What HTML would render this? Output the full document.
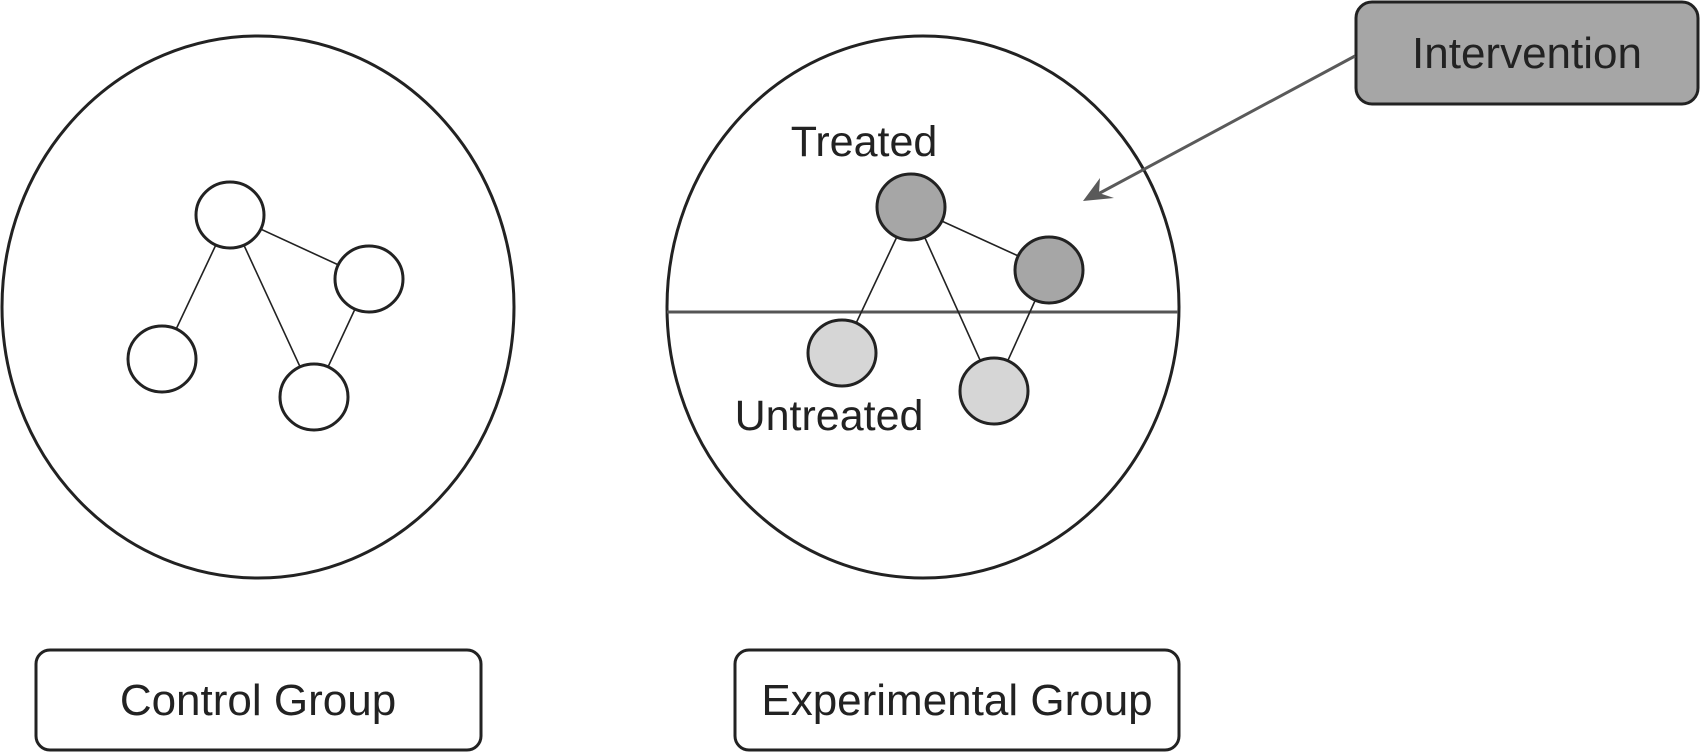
<!DOCTYPE html>
<html><head><meta charset="utf-8"><style>
html,body{margin:0;padding:0;background:#fff;}
svg{display:block;}
text{font-family:"Liberation Sans",sans-serif;fill:#222;}
</style></head><body>
<svg width="1700" height="754" viewBox="0 0 1700 754" xmlns="http://www.w3.org/2000/svg">
<ellipse cx="258" cy="307" rx="256" ry="271" fill="#fff" stroke="#222" stroke-width="3"/>
<ellipse cx="923" cy="307" rx="256" ry="271" fill="#fff" stroke="#222" stroke-width="3"/>
<line x1="667" y1="312" x2="1178" y2="312" stroke="#555" stroke-width="3"/>
<g stroke="#222" stroke-width="1.6">
<line x1="230" y1="215" x2="369" y2="279"/>
<line x1="230" y1="215" x2="162" y2="359"/>
<line x1="230" y1="215" x2="314" y2="397"/>
<line x1="369" y1="279" x2="314" y2="397"/>
<line x1="911" y1="207" x2="1049" y2="270"/>
<line x1="911" y1="207" x2="842" y2="353"/>
<line x1="911" y1="207" x2="994" y2="391"/>
<line x1="1049" y1="270" x2="994" y2="391"/>
</g>
<g stroke="#222" stroke-width="3">
<ellipse cx="230" cy="215" rx="34" ry="33" fill="#fff"/>
<ellipse cx="369" cy="279" rx="34" ry="33" fill="#fff"/>
<ellipse cx="162" cy="359" rx="34" ry="33" fill="#fff"/>
<ellipse cx="314" cy="397" rx="34" ry="33" fill="#fff"/>
<ellipse cx="911" cy="207" rx="34" ry="33" fill="#a6a6a6"/>
<ellipse cx="1049" cy="270" rx="34" ry="33" fill="#a6a6a6"/>
<ellipse cx="842" cy="353" rx="34" ry="33" fill="#d6d6d6"/>
<ellipse cx="994" cy="391" rx="34" ry="33" fill="#d6d6d6"/>
</g>
<text x="864" y="156" font-size="43" text-anchor="middle">Treated</text>
<text x="829" y="430" font-size="43" text-anchor="middle">Untreated</text>
<rect x="1356" y="2" width="342" height="102" rx="16" fill="#a6a6a6" stroke="#222" stroke-width="3"/>
<text x="1527" y="68" font-size="44" text-anchor="middle">Intervention</text>
<line x1="1355" y1="56" x2="1098" y2="194" stroke="#5a5a5a" stroke-width="3"/>
<polygon points="1083,201 1100,178 1099,193 1114,198" fill="#5a5a5a"/>
<rect x="36" y="650" width="445" height="100" rx="14" fill="#fff" stroke="#222" stroke-width="3"/>
<text x="258" y="715" font-size="44" text-anchor="middle">Control Group</text>
<rect x="735" y="650" width="444" height="100" rx="14" fill="#fff" stroke="#222" stroke-width="3"/>
<text x="957" y="715" font-size="44" text-anchor="middle">Experimental Group</text>
</svg>
</body></html>
